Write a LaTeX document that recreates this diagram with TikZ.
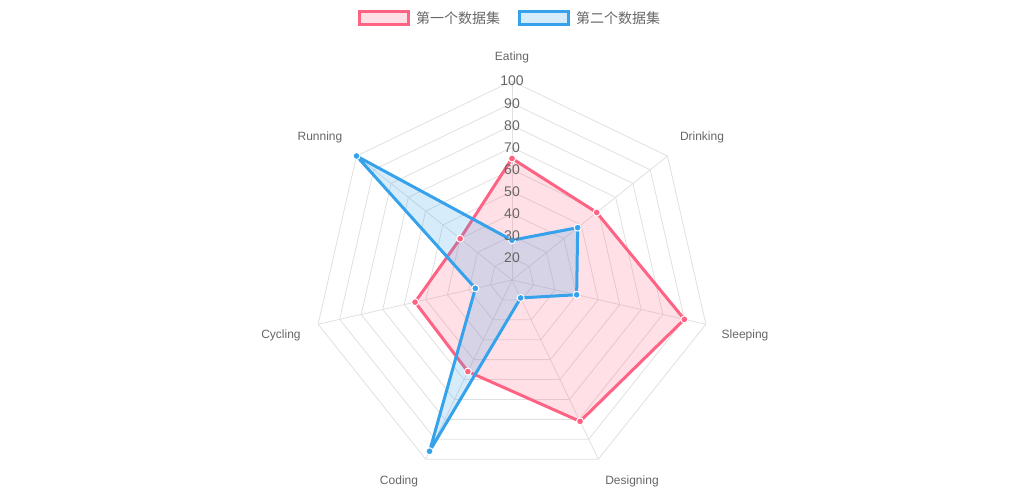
\documentclass[tikz,border=0pt]{standalone}
\usepackage{fontspec}
\setmainfont{Liberation Sans}
\newfontfamily\cjk{Noto Sans CJK SC}
\definecolor{cred}{RGB}{255,99,132}
\definecolor{cblue}{RGB}{54,162,235}
\definecolor{ctxt}{RGB}{102,102,102}
\begin{document}
\begin{tikzpicture}[x=1pt,y=-1pt,
  grid/.style={draw=black!12,line width=0.8pt},
  lbl/.style={font=\fontsize{12}{12}\selectfont,text=ctxt,inner sep=0},
  tick/.style={font=\fontsize{14}{14}\selectfont,text=ctxt,inner sep=0},
  leg/.style={font=\cjk\fontsize{14}{14}\selectfont,text=ctxt,anchor=west,inner sep=0},
  pt/.style={circle,inner sep=0,minimum size=7pt,draw=white,line width=1pt}]
\useasboundingbox (0,0) rectangle (1024,500);
\def\cx{512}\def\cy{280}\def\k{2.21}
% grid
\foreach \v in {20,30,...,100}{
  \draw[grid] (\cx,{\cy-\k*(\v-10)}) \foreach \i in {1,...,6}{ -- ({\cx+\k*(\v-10)*cos(-90+\i*360/7)},{\cy+\k*(\v-10)*sin(-90+\i*360/7)}) } -- cycle;
}
\coordinate (c) at (\cx,\cy);
\foreach \i in {0,...,6}{
  \coordinate (s\i) at ({\cx+\k*90*cos(-90+\i*360/7)},{\cy+\k*90*sin(-90+\i*360/7)});
  \draw[grid] (c) -- (s\i);
}
% datasets
\foreach \v [count=\j from 0] in {65,59,90,81,56,55,40}{
  \coordinate (a\j) at ({\cx+\k*(\v-10)*cos(-90+\j*360/7)},{\cy+\k*(\v-10)*sin(-90+\j*360/7)});}
\foreach \v [count=\j from 0] in {28,48,40,19,96,27,100}{
  \coordinate (b\j) at ({\cx+\k*(\v-10)*cos(-90+\j*360/7)},{\cy+\k*(\v-10)*sin(-90+\j*360/7)});}
\draw[cred,fill=cred,fill opacity=0.2,draw opacity=1,line width=3pt,line join=round]
  (a0)--(a1)--(a2)--(a3)--(a4)--(a5)--(a6)--cycle;
\draw[cblue,fill=cblue,fill opacity=0.2,draw opacity=1,line width=3pt,line join=round]
  (b0)--(b1)--(b2)--(b3)--(b4)--(b5)--(b6)--cycle;
\foreach \j in {0,...,6}{
  \node[pt,fill=cred] (pa\j) at (a\j) {};
  \node[pt,fill=cblue] (pb\j) at (b\j) {};}
% ticks
\foreach \v in {20,30,...,100}{
  \node[tick] (t\v) at (\cx,{\cy-\k*(\v-10)}) {\v};}
% point labels
\node[lbl] (l0) at (512,57) {Eating};
\node[lbl] (l1) at (702,137) {Drinking};
\node[lbl] (l2) at (745,335) {Sleeping};
\node[lbl] (l3) at (632,481) {Designing};
\node[lbl] (l4) at (399,481) {Coding};
\node[lbl] (l5) at (281,335) {Cycling};
\node[lbl] (l6) at (320,137) {Running};
% legend
\draw[cred,fill=cred!20,line width=3pt] (359,12) rectangle (408,25);
\node[leg] (g1) at (416,18.5) {第一个数据集};
\draw[cblue,fill=cblue!20,line width=3pt] (519,12) rectangle (568,25);
\node[leg] (g2) at (576,18.5) {第二个数据集};
\end{tikzpicture}
\end{document}
